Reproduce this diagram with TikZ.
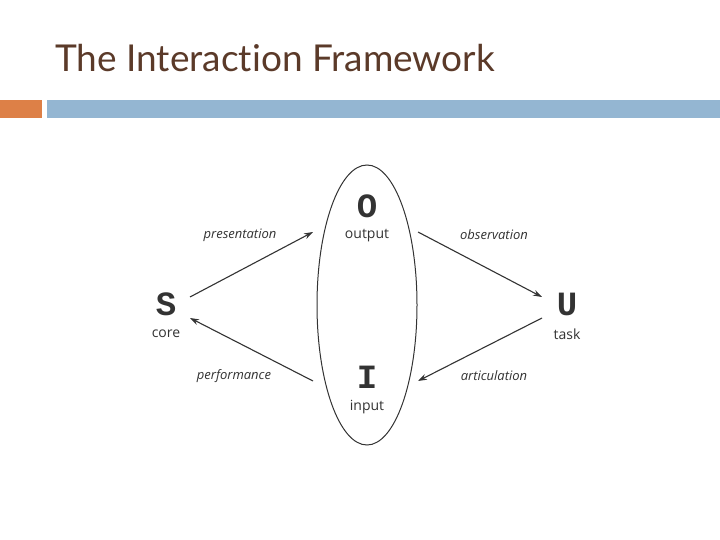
\documentclass[tikz,border=0pt]{standalone}
\usepackage{fontspec}
\setmainfont{Lato}[Ligatures=NoCommon]
\newfontfamily\labelfont{Open Sans}
\newfontfamily\glyphfont{Liberation Mono}
\usetikzlibrary{arrows.meta, positioning}
\definecolor{titlebrown}{HTML}{5B3A29}
\definecolor{barorange}{HTML}{DD8047}
\definecolor{barblue}{HTML}{94B6D2}
\definecolor{ink}{HTML}{333333}

\begin{document}
\begin{tikzpicture}[x=1pt, y=-1pt,
    letter/.style={font=\glyphfont\bfseries\fontsize{34}{34}\selectfont, text=ink, inner sep=0pt},
    caption/.style={font=\labelfont\fontsize{14}{16}\selectfont, text=ink, inner sep=1pt},
    flow/.style={font=\labelfont\itshape\fontsize{13}{15}\selectfont, text=ink},
    arrow/.style={-{Stealth[length=9pt, width=6pt]}, line width=1.1pt, draw=ink}]

    % Frame and title
    \useasboundingbox (0,0) rectangle (720,540);
    \fill[white] (0,0) rectangle (720,540);
    \node[anchor=base west, text=titlebrown, font=\fontsize{37}{40}\selectfont, inner sep=0pt] (title) at (55,72) {The Interaction Framework};
    \fill[barorange] (0,100) rectangle (42,118);
    \fill[barblue] (47,100) rectangle (720,118);

    % Interface ellipse
    \draw[ink, line width=1pt] (367,305) ellipse (50 and 140);

    % Components
    \node[letter] (S) at (166,304) {S};
    \node[caption] (core) at (166,334) {core};
    \node[letter] (O) at (367,206) {O};
    \node[caption] (output) at (367,236) {output};
    \node[letter] (I) at (367,377) {I};
    \node[caption] (input) at (367,407) {input};
    \node[letter] (U) at (567,304) {U};
    \node[caption] (task) at (567,334) {task};

    % Arrow ends
    \coordinate (s1) at (190,297);
    \coordinate (s2) at (190,318);
    \coordinate (o1) at (313,232);
    \coordinate (o2) at (418,232);
    \coordinate (i1) at (313,381);
    \coordinate (i2) at (418,381);
    \coordinate (u1) at (542,297);
    \coordinate (u2) at (542,318);

    % Arrows
    \draw[arrow] (s1) -- (o1);
    \draw[arrow] (o2) -- (u1);
    \draw[arrow] (u2) -- (i2);
    \draw[arrow] (i1) -- (s2);

    % Labels
    \node[flow] (presentation) at (240,235) {presentation};
    \node[flow] (observation) at (494,235) {observation};
    \node[flow] (performance) at (234,376) {performance};
    \node[flow] (articulation) at (494,376) {articulation};
\end{tikzpicture}
\end{document}
